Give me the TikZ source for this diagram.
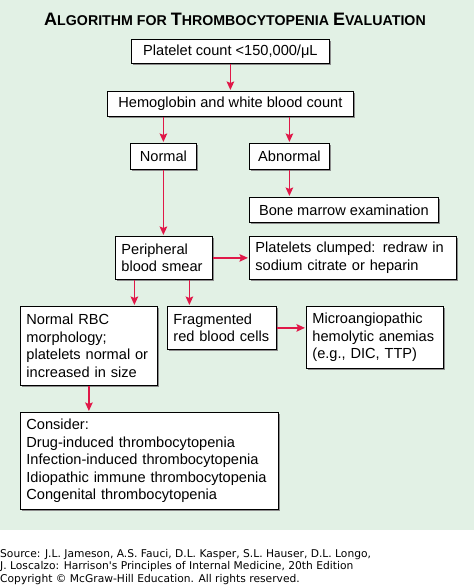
\documentclass[tikz,border=0pt]{standalone}
\usepackage{fontspec}
\setmainfont{Liberation Sans}
\newfontfamily\srcfont{DejaVu Sans}
\usepackage{xcolor}
\usepackage{tikz}
\usetikzlibrary{shapes,positioning,shadows,arrows.meta}
\definecolor{bggreen}{RGB}{226,241,229}
\definecolor{arrred}{RGB}{224,24,72}
\tikzset{box/.style={draw,fill=white,line width=0.8pt,inner xsep=6pt,inner ysep=0pt,anchor=north west,align=left,font=\fontsize{14.6}{17.6}\selectfont,drop shadow={shadow xshift=2pt,shadow yshift=-2pt,fill=black!45,opacity=1}}}
\tikzset{arr/.style={->,draw=arrred,line width=1.6pt,shorten >=1pt}}
\newcommand{\bigsc}[1]{{\fontsize{18}{20}\selectfont #1}}
\newcommand{\smsc}[1]{{\fontsize{14.2}{20}\selectfont #1}}

\begin{document}
\begin{tikzpicture}[x=1pt,y=-1pt,>={Stealth[length=8.5pt,width=7.5pt,inset=1.5pt]}]
        \useasboundingbox (0,0) rectangle (474,588);
        \fill[bggreen] (0,0) rectangle (474,530);

        \node[font=\bfseries] (title) at (235,19) {\bigsc{A}\smsc{LGORITHM FOR }\bigsc{T}\smsc{HROMBOCYTOPENIA }\bigsc{E}\smsc{VALUATION}};
        \node[box,minimum width=198pt,minimum height=24pt] (plat) at (131,39) {Platelet count <150,000/μL};
        \node[box,minimum width=246pt,minimum height=25pt] (hgb) at (107,91) {Hemoglobin and white blood count};
        \node[box,minimum width=66pt,minimum height=26pt] (norm) at (130,143) {Normal};
        \node[box,minimum width=80pt,minimum height=26pt] (abn) at (249,143) {Abnormal};
        \node[box,minimum width=189pt,minimum height=25pt] (bone) at (249,197) {Bone marrow examination};
        \node[box,text width=85pt,minimum height=43pt] (pbs) at (115,236) {Peripheral\\blood smear};
        \node[box,text width=195pt,minimum height=43pt] (clump) at (249,236) {Platelets clumped: redraw in\\sodium citrate or heparin};
        \node[box,text width=125pt,minimum height=79pt] (nrbc) at (20,306) {Normal RBC\\morphology;\\platelets normal or\\increased in size};
        \node[box,text width=97pt,minimum height=43pt] (frag) at (167,306) {Fragmented\\red blood cells};
        \node[box,text width=125pt,minimum height=62pt] (micro) at (306,306) {Microangiopathic\\hemolytic anemias\\(e.g., DIC, TTP)};
        \node[box,text width=246pt,minimum height=97pt] (cons) at (20,412) {Consider:\\Drug-induced thrombocytopenia\\Infection-induced thrombocytopenia\\Idiopathic immune thrombocytopenia\\Congenital thrombocytopenia};
        \node[anchor=north west,inner sep=0pt,align=left,font=\srcfont\fontsize{10.7}{12.4}\selectfont] (src) at (0,549) {Source: J.L. Jameson, A.S. Fauci, D.L. Kasper, S.L. Hauser, D.L. Longo,\\J. Loscalzo: Harrison's Principles of Internal Medicine, 20th Edition\\Copyright © McGraw-Hill Education. All rights reserved.};

        \coordinate (p1) at ([xshift=-29.5pt]pbs.south);
        \coordinate (p2) at ([xshift=25.5pt]pbs.south);

        \draw [arr] (plat) to [] (hgb);
        \draw [arr] (hgb.south -| norm.north) to [] (norm.north);
        \draw [arr] (hgb.south -| abn.north) to [] (abn.north);
        \draw [arr] (abn.south) to [] (abn.south |- bone.north);
        \draw [arr] (norm.south) to [] (norm.south |- pbs.north);
        \draw [arr] (pbs.east) to [] (clump.west);
        \draw [arr] (p1) to [] (p1 |- nrbc.north);
        \draw [arr] (p2) to [] (p2 |- frag.north);
        \draw [arr] (frag.east) to [] (frag.east -| micro.west);
        \draw [arr] (nrbc.south) to [] (nrbc.south |- cons.north);
    \end{tikzpicture}
\end{document}
